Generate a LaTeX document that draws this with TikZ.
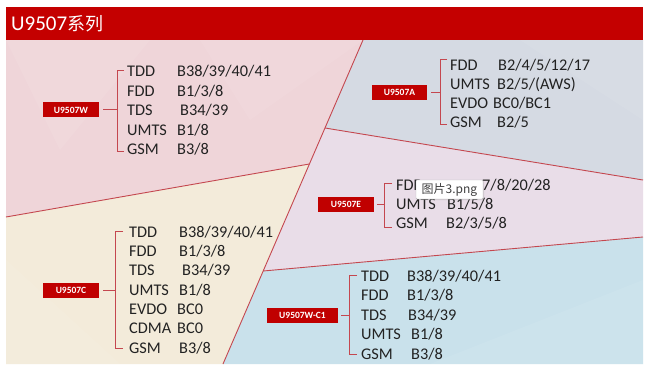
\documentclass[tikz,border=0pt]{standalone}
\usepackage{fontspec}
\setmainfont{Carlito}
\newfontfamily\cjk{Noto Sans CJK SC}
\usetikzlibrary{shadows}
\definecolor{hdr}{HTML}{C40000}
\definecolor{lbl}{HTML}{C00000}
\definecolor{ln}{HTML}{C4474F}
\definecolor{txt}{HTML}{222222}
\definecolor{rTL}{HTML}{EFD5D9}
\definecolor{rBL}{HTML}{F3EBDA}
\definecolor{rTR}{HTML}{D5DAE3}
\definecolor{rMR}{HTML}{E9DDE8}
\definecolor{rBR}{HTML}{C9E1EB}
\tikzset{
  sep/.style={draw=ln, line width=0.9pt},
  br/.style={draw=ln, line width=1pt},
  lab/.style={fill=lbl, text=white, font=\fontsize{9.5}{10}\selectfont\bfseries, minimum height=15pt, inner sep=0pt},
  row/.style={anchor=west, inner sep=0pt, text height=10.3pt, text depth=0pt, text=txt, font=\fontsize{16.3}{16}\selectfont},
}
\begin{document}
\begin{tikzpicture}[x=1pt,y=-1pt]
\useasboundingbox (0,0) rectangle (649,369);
\fill[white] (0,0) rectangle (649,369);
% regions
\fill[rTL] (6,40) -- (363,40) -- (309.4,164) -- (6,217) -- cycle;
\fill[rBL] (6,217) -- (309.4,164) -- (223,364) -- (6,364) -- cycle;
\fill[rTR] (363,40) -- (643,40) -- (643,180) -- (325,128) -- cycle;
\fill[rMR] (325,128) -- (643,180) -- (643,237) -- (263.2,271) -- cycle;
\fill[rBR] (263.2,271) -- (643,237) -- (643,364) -- (223,364) -- cycle;
% faint facets
\fill[white, opacity=0.08] (6,40) -- (150,40) -- (60,150) -- cycle;
\fill[white, opacity=0.07] (200,40) -- (363,40) -- (250,120) -- cycle;
\fill[white, opacity=0.08] (6,260) -- (120,364) -- (6,364) -- cycle;
\fill[white, opacity=0.07] (520,40) -- (643,40) -- (643,120) -- cycle;
\fill[white, opacity=0.07] (430,364) -- (643,280) -- (643,364) -- cycle;
% separators
\coordinate (d1) at (363,40);
\coordinate (d2) at (223,364);
\coordinate (l1) at (6,217);
\coordinate (l2) at (309.4,164);
\coordinate (r1) at (325,128);
\coordinate (r2) at (643,180);
\coordinate (s1) at (263.2,271);
\coordinate (s2) at (643,237);
\draw[sep] (d1) -- (d2);
\draw[sep] (l1) -- (l2);
\draw[sep] (r1) -- (r2);
\draw[sep] (s1) -- (s2);
% header
\fill[hdr] (6,7) rectangle (643,40);
\node[anchor=west, inner sep=0pt, text=white] (title) at (11,23.5) {\fontsize{21}{21}\selectfont U9507{\cjk\fontsize{18}{18}\selectfont 系列}};

% ---------- U9507W
\node[lab, minimum width=56pt] (wbox) at (71,110) {U9507W};
\coordinate (wt) at (124,71);
\coordinate (wb) at (124,152);
\draw[br] (wt) -- (117,71) -- (117,152) -- (wb);
\draw[br] ([xshift=4pt]wbox.east) -- (117,110);
\node[row] (w1k) at (127,71.5) {TDD};
\node[row] (w1v) at (177,71.5) {B38/39/40/41};
\node[row] (w2k) at (127,91) {FDD};
\node[row] (w2v) at (177,91) {B1/3/8};
\node[row] (w3k) at (127,110.5) {TDS};
\node[row] (w3v) at (180,110.5) {B34/39};
\node[row] (w4k) at (127,130) {UMTS};
\node[row] (w4v) at (177,130) {B1/8};
\node[row] (w5k) at (127,149.5) {GSM};
\node[row] (w5v) at (177,149.5) {B3/8};

% ---------- U9507A
\node[lab, minimum width=55pt] (abox) at (399.5,92.5) {U9507A};
\coordinate (at) at (447,60);
\coordinate (ab) at (447,125);
\draw[br] (at) -- (440,60) -- (440,125) -- (ab);
\draw[br] ([xshift=4pt]abox.east) -- (440,92.5);
\node[row] (a1k) at (450,65) {FDD};
\node[row] (a1v) at (498,65) {B2/4/5/12/17};
\node[row] (a2k) at (450,84) {UMTS};
\node[row] (a2v) at (497,84) {B2/5/(AWS)};
\node[row] (a3k) at (450,103) {EVDO};
\node[row] (a3v) at (493,103) {BC0/BC1};
\node[row] (a4k) at (450,122) {GSM};
\node[row] (a4v) at (497,122) {B2/5};

% ---------- U9507E
\node[lab, minimum width=56pt] (ebox) at (346,204) {U9507E};
\coordinate (et) at (392,183);
\coordinate (eb) at (392,227);
\draw[br] (et) -- (384,183) -- (384,227) -- (eb);
\draw[br] ([xshift=3pt]ebox.east) -- (384,204);
\node[row] (e1k) at (396,185) {FDD};
\node[row] (e1v) at (482,185) {7/8/20/28};
\node[row] (e2k) at (396,204) {UMTS};
\node[row] (e2v) at (447,204) {B1/5/8};
\node[row] (e3k) at (396,223) {GSM};
\node[row] (e3v) at (446,223) {B2/3/5/8};
% tooltip
\node[draw=gray!55, fill=white, rounded corners=1pt, drop shadow={shadow xshift=1pt, shadow yshift=-1pt, opacity=0.25},
      minimum width=67pt, minimum height=19pt, inner sep=0pt, text=black!75,
      font=\cjk\fontsize{12}{12}\selectfont] (tip) at (449.5,189.5) {图片3.png};

% ---------- U9507C
\node[lab, minimum width=56pt] (cbox) at (71,290) {U9507C};
\coordinate (ct) at (123,231);
\coordinate (cb) at (123,348);
\draw[br] (ct) -- (115,231) -- (115,348) -- (cb);
\draw[br] ([xshift=4pt]cbox.east) -- (115,290);
\node[row] (c1k) at (129,232) {TDD};
\node[row] (c1v) at (179,232) {B38/39/40/41};
\node[row] (c2k) at (129,251.3) {FDD};
\node[row] (c2v) at (179,251.3) {B1/3/8};
\node[row] (c3k) at (129,270.7) {TDS};
\node[row] (c3v) at (182,270.7) {B34/39};
\node[row] (c4k) at (129,290) {UMTS};
\node[row] (c4v) at (179,290) {B1/8};
\node[row] (c5k) at (129,309.4) {EVDO};
\node[row] (c5v) at (177,309.4) {BC0};
\node[row] (c6k) at (129,328.7) {CDMA};
\node[row] (c6v) at (177,328.7) {BC0};
\node[row] (c7k) at (129,348) {GSM};
\node[row] (c7v) at (179,348) {B3/8};

% ---------- U9507W-C1
\node[lab, minimum width=71pt] (xbox) at (302.5,315) {U9507W-C1};
\coordinate (xt) at (357,275);
\coordinate (xb) at (357,354);
\draw[br] (xt) -- (349,275) -- (349,354) -- (xb);
\draw[br] ([xshift=3pt]xbox.east) -- (349,315);
\node[row] (x1k) at (361,276) {TDD};
\node[row] (x1v) at (407,276) {B38/39/40/41};
\node[row] (x2k) at (361,295.5) {FDD};
\node[row] (x2v) at (407,295.5) {B1/3/8};
\node[row] (x3k) at (361,315) {TDS};
\node[row] (x3v) at (408,315) {B34/39};
\node[row] (x4k) at (361,334.5) {UMTS};
\node[row] (x4v) at (411,334.5) {B1/8};
\node[row] (x5k) at (361,354) {GSM};
\node[row] (x5v) at (411,354) {B3/8};
\end{tikzpicture}
\end{document}
